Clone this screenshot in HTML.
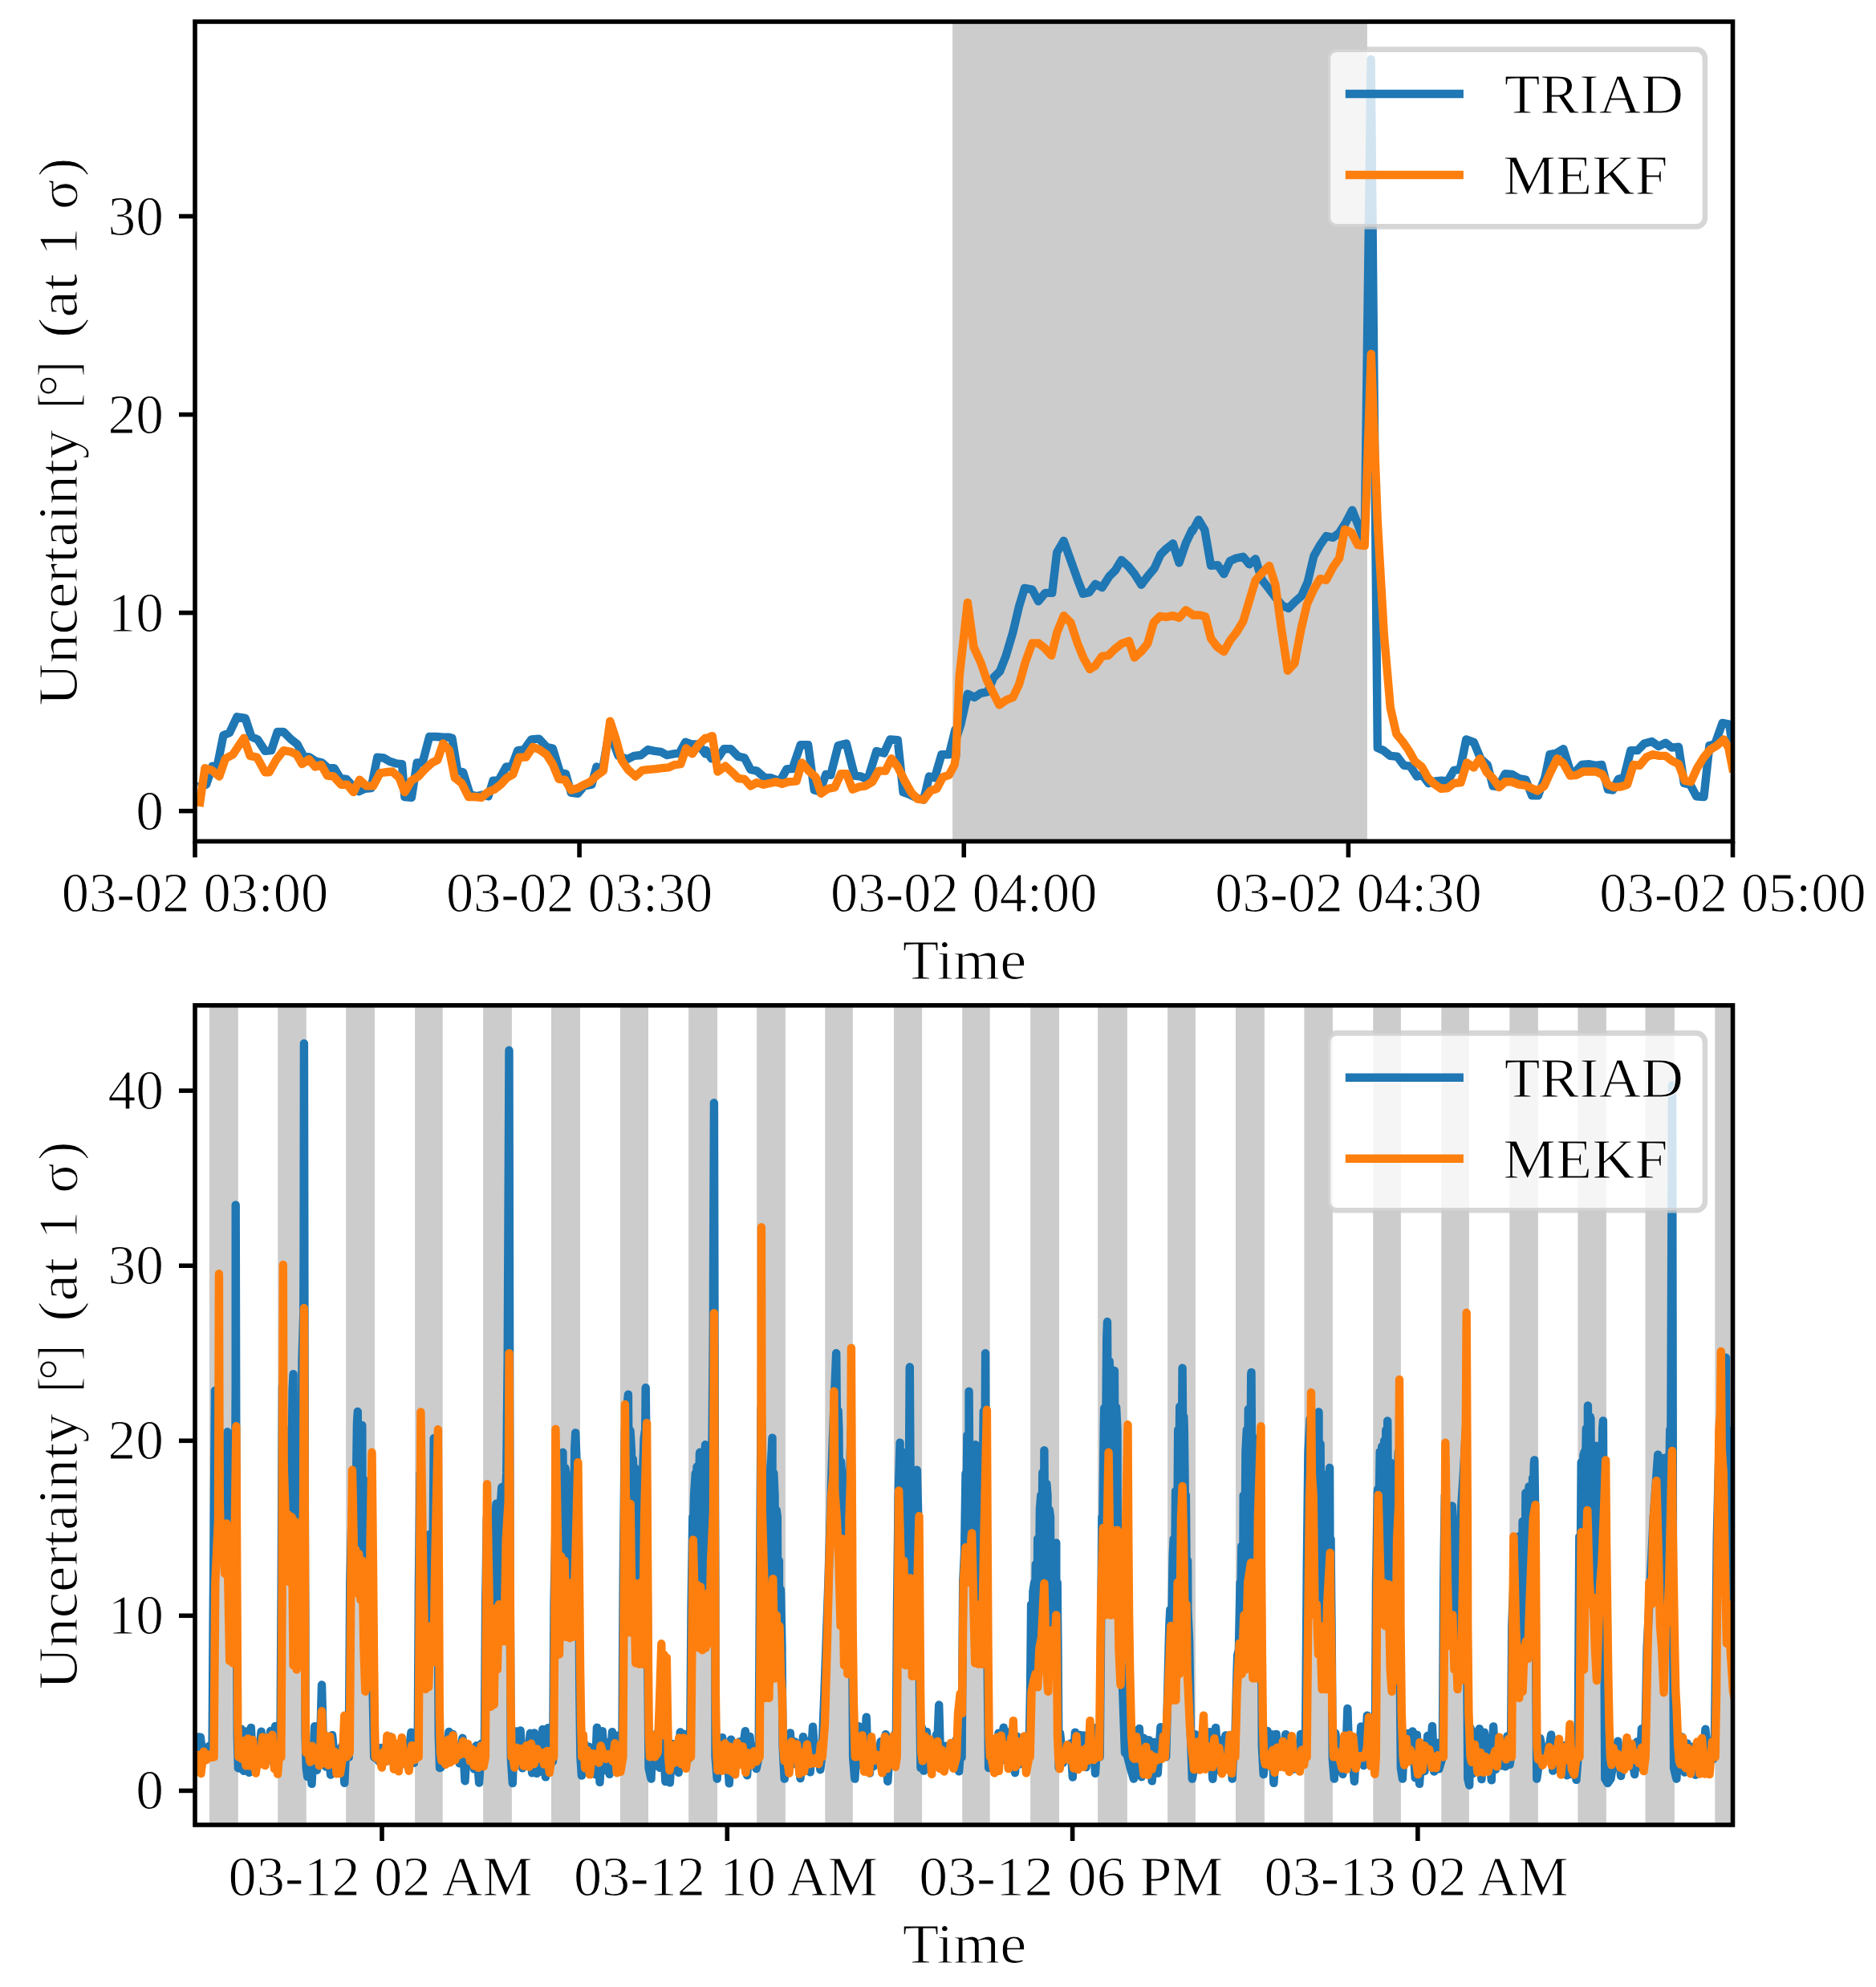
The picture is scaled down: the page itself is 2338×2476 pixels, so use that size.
<!DOCTYPE html>
<html lang="en"><head><meta charset="utf-8"><title>Uncertainty TRIAD vs MEKF</title>
<style>html,body{margin:0;padding:0;background:#fff}svg{display:block}text{font-family:"Liberation Serif","DejaVu Serif",serif;fill:#000;stroke:#fff;stroke-width:1.1px;stroke-linejoin:round}</style>
</head><body>
<svg width="2338" height="2476" viewBox="0 0 2338 2476">
<rect width="2338" height="2476" fill="#fff"/>
<defs>
<clipPath id="ct"><rect x="243.0" y="27.0" width="1916.5" height="1021.4000000000001"/></clipPath>
<clipPath id="cb"><rect x="243.0" y="1252.8" width="1916.5" height="1021.2"/></clipPath>
</defs>
<rect x="1187.1" y="27.0" width="516.8" height="1021.4000000000001" fill="#cccccc"/>
<g clip-path="url(#ct)" fill="none" stroke-width="10.4" stroke-linejoin="round" stroke-linecap="butt">
<path d="M246.8 980.3 L257.1 977.7 L264.7 954.7 L270.7 954.7 L278.4 916.3 L286.1 912.9 L295.4 893.3 L305.7 895.0 L313.3 918.0 L321.0 921.4 L330.4 935.9 L338.1 935.1 L345.8 912.0 L353.4 912.0 L362.8 921.4 L370.5 927.4 L378.2 941.9 L385.8 943.6 L393.5 948.7 L401.2 950.4 L408.9 957.2 L416.5 957.2 L424.2 970.0 L431.9 970.9 L439.6 979.4 L447.2 986.2 L454.9 982.8 L462.6 982.0 L470.3 943.6 L478.0 944.4 L485.6 948.7 L493.3 951.3 L501.0 952.1 L504.4 993.0 L512.9 993.9 L519.7 950.4 L526.6 950.4 L535.1 918.0 L543.6 918.0 L552.2 918.8 L560.0 918.8 L563.4 919.7 L570.2 960.6 L577.1 962.3 L585.6 989.6 L593.3 992.2 L600.9 990.5 L608.6 992.2 L614.6 972.6 L621.4 972.6 L630.8 955.5 L637.6 955.5 L645.3 935.1 L653.0 934.2 L662.3 921.4 L671.7 920.6 L681.1 930.8 L688.8 932.5 L698.2 963.2 L705.0 964.1 L711.8 987.9 L720.3 988.8 L728.0 979.4 L737.4 977.7 L743.4 955.5 L751.0 958.9 L758.7 914.6 L763.0 921.4 L770.7 941.9 L781.7 946.1 L790.3 941.9 L798.8 941.0 L807.3 934.2 L815.9 935.9 L823.5 936.8 L831.2 941.0 L839.7 939.3 L846.6 938.5 L854.2 924.8 L861.9 927.4 L870.4 927.4 L879.0 939.3 L880.0 935.1 L886.8 945.3 L895.4 943.6 L902.2 933.3 L910.7 933.3 L920.1 942.7 L927.8 944.4 L935.4 958.9 L943.1 960.6 L953.3 969.2 L960.2 969.2 L972.1 973.4 L980.6 958.1 L987.5 958.1 L997.7 928.2 L1007.1 928.2 L1014.8 984.5 L1021.6 986.2 L1029.3 964.9 L1035.2 965.8 L1044.6 929.1 L1054.8 926.5 L1065.1 966.6 L1072.8 967.5 L1081.3 971.7 L1092.4 935.9 L1101.7 938.5 L1109.4 921.4 L1118.8 922.3 L1125.6 987.1 L1132.5 989.6 L1143.5 994.8 L1151.2 996.5 L1158.0 967.5 L1164.9 969.2 L1173.4 940.2 L1182.8 940.2 L1190.4 909.5 L1190.9 943.4 L1191.4 940.8 L1191.9 919.5 L1197.4 902.3 L1205.9 864.7 L1214.5 869.0 L1222.2 863.8 L1230.7 862.1 L1238.4 844.2 L1246.1 836.5 L1253.8 816.8 L1262.4 787.7 L1270.1 755.2 L1276.9 732.9 L1286.4 734.6 L1294.1 749.2 L1302.6 738.9 L1311.2 738.9 L1317.2 688.4 L1325.7 673.9 L1334.3 697.9 L1342.8 721.8 L1349.7 739.8 L1357.4 738.1 L1365.1 727.8 L1373.6 732.1 L1382.2 718.4 L1389.9 710.7 L1397.6 697.9 L1406.1 705.6 L1413.8 715.0 L1422.4 728.7 L1430.1 718.4 L1438.7 708.1 L1446.4 691.0 L1454.1 683.3 L1461.8 677.3 L1469.5 701.3 L1478.0 676.5 L1485.7 660.2 L1486.0 662.1 L1493.7 647.6 L1501.4 660.4 L1509.1 704.9 L1517.6 704.1 L1525.3 715.2 L1533.0 698.9 L1540.7 695.5 L1549.3 693.8 L1557.0 703.2 L1564.7 696.4 L1572.4 722.0 L1581.0 733.1 L1589.5 744.3 L1598.1 754.5 L1605.8 758.0 L1614.3 749.4 L1622.0 742.6 L1629.7 725.4 L1637.4 692.9 L1645.1 679.2 L1652.8 668.1 L1661.4 669.8 L1669.1 663.8 L1676.8 651.9 L1685.3 635.6 L1693.0 655.3 L1700.7 675.0 L1708.6 74.0 L1716.8 932.0 L1724.1 935.1 L1732.6 941.9 L1741.2 942.7 L1749.7 953.8 L1757.4 954.7 L1765.9 967.5 L1772.7 965.8 L1780.4 976.0 L1788.9 973.4 L1796.6 972.6 L1804.3 973.4 L1812.0 959.8 L1819.6 958.9 L1827.3 921.4 L1836.7 924.8 L1845.2 945.3 L1853.8 953.0 L1860.6 979.4 L1867.4 980.3 L1875.9 964.1 L1884.5 964.9 L1893.0 970.0 L1901.5 971.7 L1909.2 991.3 L1916.9 991.3 L1925.4 969.2 L1931.4 940.2 L1939.9 938.5 L1948.4 933.3 L1957.0 960.6 L1962.9 962.3 L1971.4 953.0 L1980.0 952.1 L1988.5 953.8 L1996.2 953.0 L2003.9 983.7 L2010.1 984.5 L2016.9 970.9 L2023.8 969.2 L2032.3 935.1 L2040.8 935.1 L2049.3 926.5 L2058.7 924.0 L2067.2 929.9 L2075.8 925.7 L2083.5 931.6 L2092.0 930.8 L2098.8 976.0 L2106.5 977.7 L2114.2 992.2 L2123.5 993.0 L2130.4 929.1 L2137.2 927.4 L2146.6 900.9 L2155.1 902.6 L2160.2 936.8" stroke="#1f77b4"/>
<path d="M248.5 1005.0 L255.4 957.2 L263.9 959.8 L273.3 967.5 L280.9 945.3 L290.3 940.2 L304.0 919.7 L311.6 941.9 L320.2 943.6 L330.4 962.3 L335.5 962.3 L344.1 947.0 L353.4 935.1 L362.8 936.8 L369.6 940.2 L376.5 952.1 L385.0 946.1 L392.7 955.5 L400.3 953.0 L408.0 966.6 L415.7 967.5 L425.1 977.7 L432.8 977.7 L440.4 987.1 L448.1 971.7 L456.6 979.4 L465.2 979.4 L473.7 963.2 L480.5 962.3 L489.0 961.5 L497.6 969.2 L504.4 987.1 L512.9 972.6 L521.4 967.5 L530.0 958.1 L538.5 950.4 L545.3 947.0 L552.2 926.5 L560.0 935.1 L566.8 969.2 L575.4 976.0 L583.9 993.0 L592.4 993.0 L600.1 993.9 L607.8 987.1 L616.3 983.7 L624.0 977.7 L631.6 969.2 L639.3 964.9 L647.0 943.6 L655.5 943.6 L664.1 930.8 L672.6 934.2 L681.1 940.2 L688.8 952.1 L696.5 970.9 L704.1 971.7 L711.8 984.5 L720.3 982.0 L728.0 977.7 L735.7 974.3 L743.4 966.6 L751.9 960.6 L760.3 898.6 L767.2 919.7 L774.9 947.8 L782.6 958.9 L792.0 967.5 L800.5 959.8 L809.0 958.9 L817.6 958.1 L825.2 957.2 L832.9 956.4 L840.6 953.0 L848.3 952.1 L855.1 932.5 L862.8 939.3 L870.4 928.2 L879.0 919.7 L880.0 920.6 L887.7 917.1 L894.5 961.5 L903.9 954.7 L912.4 962.3 L920.1 970.0 L927.8 970.9 L935.4 979.4 L943.1 975.1 L951.6 977.7 L959.3 976.0 L967.0 974.3 L974.7 976.8 L982.3 974.3 L992.6 973.4 L999.4 950.4 L1007.9 960.6 L1016.5 968.3 L1023.3 988.8 L1031.8 982.8 L1040.3 981.1 L1048.0 964.1 L1054.8 964.1 L1062.5 983.7 L1071.0 980.3 L1078.7 979.4 L1087.2 974.3 L1094.9 960.6 L1103.5 960.6 L1111.1 945.3 L1118.8 955.5 L1127.3 972.6 L1135.9 987.9 L1143.5 995.6 L1151.2 996.5 L1159.7 985.4 L1167.4 982.8 L1175.1 968.3 L1182.8 965.8 L1189.6 953.0 L1191.4 941.7 L1195.7 842.5 L1205.9 750.9 L1213.6 806.5 L1222.2 825.3 L1229.9 847.6 L1237.6 863.0 L1245.3 878.4 L1253.8 872.4 L1262.4 869.0 L1270.1 852.7 L1277.8 825.3 L1286.4 801.4 L1294.1 801.4 L1301.8 807.4 L1310.3 816.8 L1317.2 788.5 L1325.7 767.2 L1334.3 775.7 L1342.8 801.4 L1350.5 820.2 L1358.2 833.9 L1365.1 829.6 L1373.6 817.6 L1381.3 816.8 L1389.0 809.1 L1397.6 802.2 L1407.0 798.8 L1413.8 819.3 L1422.4 811.6 L1430.1 802.2 L1437.8 775.7 L1445.5 768.0 L1453.2 768.9 L1461.8 767.2 L1469.5 769.7 L1478.0 760.3 L1485.7 765.4 L1486.8 766.5 L1495.4 766.5 L1502.2 768.2 L1509.1 795.6 L1516.8 805.9 L1525.3 811.9 L1533.0 798.2 L1541.6 787.0 L1549.3 774.2 L1557.0 748.5 L1564.7 722.9 L1573.3 713.5 L1581.8 704.9 L1589.5 728.9 L1597.2 785.3 L1604.9 835.8 L1613.5 826.4 L1621.2 785.3 L1628.9 752.8 L1637.4 734.0 L1645.1 721.2 L1652.8 722.9 L1661.4 706.6 L1669.1 695.5 L1675.9 659.6 L1684.5 663.8 L1692.2 679.2 L1700.7 680.1 L1708.8 441.0 L1716.8 650.0 L1724.8 790.0 L1732.8 882.0 L1740.3 914.6 L1748.0 924.0 L1755.7 935.1 L1763.3 948.7 L1771.9 955.5 L1779.6 969.2 L1787.2 976.8 L1795.8 982.8 L1804.3 982.0 L1812.0 976.0 L1820.5 975.1 L1828.2 950.4 L1836.7 956.4 L1844.4 945.3 L1852.9 962.3 L1860.6 970.0 L1868.3 981.1 L1875.9 974.3 L1884.5 974.3 L1893.0 977.7 L1900.7 978.6 L1908.3 982.0 L1916.0 985.4 L1924.5 979.4 L1932.2 962.3 L1940.7 945.3 L1948.4 951.3 L1957.0 966.6 L1964.6 965.8 L1973.2 961.5 L1980.8 961.5 L1988.5 961.5 L1997.0 964.9 L2003.9 977.7 L2011.8 981.1 L2020.3 980.3 L2028.0 977.7 L2035.7 953.0 L2043.4 953.8 L2051.9 943.6 L2059.6 940.2 L2068.1 941.9 L2075.8 941.9 L2083.5 947.8 L2092.0 952.1 L2099.7 972.6 L2107.3 974.3 L2115.0 957.2 L2123.5 943.6 L2131.2 934.2 L2139.7 929.1 L2148.3 921.4 L2154.2 931.6 L2160.2 962.3" stroke="#ff7f0e"/>
</g>
<rect x="261.0" y="1252.8" width="35.8" height="1021.2" fill="#cccccc"/>
<rect x="346.2" y="1252.8" width="35.6" height="1021.2" fill="#cccccc"/>
<rect x="431.1" y="1252.8" width="35.9" height="1021.2" fill="#cccccc"/>
<rect x="517.1" y="1252.8" width="34.6" height="1021.2" fill="#cccccc"/>
<rect x="602.1" y="1252.8" width="35.8" height="1021.2" fill="#cccccc"/>
<rect x="687.0" y="1252.8" width="36.0" height="1021.2" fill="#cccccc"/>
<rect x="772.9" y="1252.8" width="35.1" height="1021.2" fill="#cccccc"/>
<rect x="858.1" y="1252.8" width="35.9" height="1021.2" fill="#cccccc"/>
<rect x="943.1" y="1252.8" width="35.8" height="1021.2" fill="#cccccc"/>
<rect x="1028.3" y="1252.8" width="34.5" height="1021.2" fill="#cccccc"/>
<rect x="1114.0" y="1252.8" width="35.1" height="1021.2" fill="#cccccc"/>
<rect x="1199.2" y="1252.8" width="34.5" height="1021.2" fill="#cccccc"/>
<rect x="1284.1" y="1252.8" width="35.9" height="1021.2" fill="#cccccc"/>
<rect x="1368.1" y="1252.8" width="36.8" height="1021.2" fill="#cccccc"/>
<rect x="1455.1" y="1252.8" width="34.8" height="1021.2" fill="#cccccc"/>
<rect x="1540.0" y="1252.8" width="35.9" height="1021.2" fill="#cccccc"/>
<rect x="1625.4" y="1252.8" width="35.5" height="1021.2" fill="#cccccc"/>
<rect x="1711.3" y="1252.8" width="34.6" height="1021.2" fill="#cccccc"/>
<rect x="1796.3" y="1252.8" width="34.6" height="1021.2" fill="#cccccc"/>
<rect x="1881.3" y="1252.8" width="35.6" height="1021.2" fill="#cccccc"/>
<rect x="1966.4" y="1252.8" width="35.5" height="1021.2" fill="#cccccc"/>
<rect x="2050.5" y="1252.8" width="36.4" height="1021.2" fill="#cccccc"/>
<rect x="2137.3" y="1252.8" width="22.2" height="1021.2" fill="#cccccc"/>
<g clip-path="url(#cb)" fill="none" stroke-width="10.4" stroke-linejoin="round" stroke-linecap="butt">
<path d="M244.0 2159.5 L246.9 2206.6 L249.8 2164.7 L251.8 2180.9 L254.2 2179.1 L257.5 2184.9 L260.4 2175.8 L263.1 2179.7 L264.5 2189.4 L265.8 1999.1 L266.2 1957.4 L267.9 1749.1 L268.0 1732.6 L269.6 1833.5 L270.5 1890.3 L271.3 1896.6 L273.0 1909.7 L274.0 1917.5 L274.7 1912.9 L276.4 1901.6 L278.1 1890.3 L278.1 1890.3 L279.8 1906.5 L280.8 1863.1 L281.5 1906.5 L283.2 1793.9 L283.5 1784.3 L284.9 1906.5 L285.7 1863.1 L286.6 1951.0 L287.6 1890.3 L288.3 1979.9 L290.0 1938.1 L290.3 1944.7 L291.7 1971.9 L291.7 1969.3 L293.4 1785.2 L293.7 1728.5 L293.7 1501.5 L294.6 1921.3 L294.9 2026.3 L295.1 2051.0 L295.7 2162.2 L296.8 2200.9 L296.8 2203.0 L298.3 2203.5 L300.4 2154.5 L303.8 2206.8 L307.2 2157.4 L310.5 2208.8 L312.8 2152.9 L315.6 2203.0 L319.4 2187.0 L322.7 2188.0 L325.6 2157.8 L328.7 2198.4 L331.0 2169.2 L333.7 2187.2 L337.1 2157.0 L340.4 2195.6 L343.1 2151.0 L346.2 2190.6 L349.3 2189.4 L350.7 1971.9 L351.0 1910.6 L352.0 1727.2 L352.7 1761.2 L354.2 1835.9 L354.4 1835.9 L356.1 1835.9 L357.8 1835.9 L358.3 1835.9 L359.5 1895.6 L361.2 1790.9 L361.8 1781.6 L362.9 1898.3 L364.6 1730.7 L365.6 1712.2 L366.3 1898.3 L368.0 1759.1 L369.1 1781.6 L369.7 1903.8 L371.4 1840.5 L372.7 1874.0 L373.1 1925.5 L374.8 1814.0 L375.9 1781.6 L376.5 1692.2 L378.2 1637.9 L378.5 1570.3 L378.9 1300.1 L379.8 1837.5 L380.1 1971.9 L380.4 2006.6 L380.6 2162.2 L381.6 2200.9 L381.7 2203.0 L383.2 2214.1 L386.0 2185.5 L388.5 2222.9 L392.2 2151.2 L395.0 2205.7 L398.3 2178.3 L398.8 2181.3 L401.0 2099.4 L403.2 2186.0 L406.1 2201.5 L408.7 2163.9 L412.0 2211.5 L414.1 2162.2 L417.6 2197.8 L421.3 2187.0 L423.5 2180.2 L426.7 2175.5 L429.3 2221.8 L432.0 2158.9 L434.7 2189.4 L436.3 1971.9 L436.4 1969.3 L438.1 1905.6 L438.5 1890.3 L439.8 1864.4 L441.2 1835.9 L441.5 1831.4 L443.2 1898.9 L444.9 1774.8 L445.8 1759.0 L446.6 1944.5 L448.3 1811.0 L448.8 1822.3 L450.0 1944.5 L451.3 1775.9 L451.7 1952.7 L453.4 1843.7 L454.0 1863.1 L455.1 1979.9 L456.2 1936.5 L456.8 1979.9 L458.5 1966.7 L458.9 1971.9 L460.2 1984.9 L461.6 1999.1 L461.9 1982.1 L462.9 1917.5 L463.6 1990.3 L464.6 2107.8 L465.3 2142.5 L466.2 2189.4 L467.7 2190.8 L469.7 2181.1 L472.0 2194.7 L474.6 2177.9 L477.2 2190.2 L480.1 2182.5 L483.1 2194.1 L486.3 2164.1 L488.4 2192.2 L491.0 2187.1 L493.1 2192.2 L496.3 2178.5 L499.1 2199.4 L501.5 2177.7 L503.9 2194.9 L506.7 2172.4 L509.6 2183.6 L512.5 2158.7 L515.9 2196.7 L519.4 2159.2 L520.6 2189.4 L521.9 1971.9 L522.3 1943.5 L523.6 1835.9 L524.0 1849.6 L525.7 1906.3 L526.8 1944.7 L527.4 1948.3 L529.1 1959.7 L530.8 1971.0 L530.9 1971.9 L532.5 2037.0 L534.2 1924.0 L535.0 1912.1 L535.9 2034.3 L537.6 1943.2 L537.7 1944.7 L539.3 1956.1 L540.7 1792.2 L541.0 1876.5 L542.7 1863.7 L543.4 1890.3 L544.4 1926.4 L545.6 1971.9 L546.1 2057.0 L546.7 2162.2 L547.8 2195.2 L548.0 2203.0 L549.5 2202.5 L553.3 2185.1 L555.8 2185.1 L559.5 2158.0 L561.7 2188.8 L564.3 2160.9 L566.8 2188.9 L570.3 2174.7 L572.7 2197.4 L576.4 2165.8 L579.5 2219.2 L581.8 2180.7 L585.5 2182.5 L588.8 2183.0 L590.9 2204.4 L593.6 2175.2 L597.1 2221.5 L600.1 2172.7 L603.8 2189.4 L605.1 1999.1 L605.5 1976.4 L606.8 1890.3 L607.2 1896.6 L608.9 1922.8 L610.3 1944.7 L610.6 1942.9 L612.3 1980.5 L614.0 1920.2 L614.4 1917.5 L615.7 2012.5 L617.4 1885.3 L618.5 1873.7 L619.1 2007.1 L620.8 1893.5 L622.0 1903.9 L622.5 2007.1 L624.2 1870.1 L625.3 1853.3 L625.9 2007.1 L627.6 1884.9 L628.0 1890.3 L629.3 1868.6 L631.0 1840.3 L631.2 1835.9 L632.7 1694.1 L634.4 1328.7 L634.5 1308.8 L635.6 1971.9 L636.1 2069.7 L636.7 2189.4 L637.8 2205.9 L638.8 2222.0 L640.3 2179.9 L643.7 2157.5 L645.8 2192.2 L648.6 2156.4 L651.1 2203.3 L654.7 2183.3 L658.0 2187.5 L660.8 2159.8 L663.1 2209.3 L665.9 2159.5 L668.8 2209.9 L670.9 2169.1 L674.0 2207.6 L676.3 2154.9 L679.9 2214.4 L682.9 2153.3 L685.6 2189.2 L687.6 2169.1 L689.1 2194.8 L690.5 1999.1 L690.8 1982.0 L692.5 1897.0 L693.2 1863.1 L694.2 1863.1 L695.9 1863.1 L697.3 1863.1 L697.6 1901.3 L699.3 1836.4 L701.0 1947.3 L701.4 1809.8 L702.7 1952.7 L704.4 1829.5 L705.5 1835.9 L706.1 1952.7 L707.8 1887.4 L709.0 1912.1 L709.5 1979.9 L711.2 1921.1 L711.7 1922.9 L712.9 1985.3 L713.6 1863.1 L714.6 1934.1 L716.3 1803.1 L717.2 1785.4 L718.0 1806.7 L719.7 1847.2 L720.4 1863.1 L721.4 1992.3 L721.5 1999.1 L722.3 2107.8 L723.1 2170.1 L723.4 2189.4 L724.9 2212.6 L728.5 2173.2 L731.5 2193.2 L734.1 2176.7 L736.5 2198.8 L738.7 2178.3 L741.7 2211.1 L743.9 2152.8 L747.5 2220.9 L750.7 2157.2 L753.9 2205.7 L756.8 2171.5 L759.6 2210.9 L763.0 2158.2 L766.8 2182.0 L769.9 2162.7 L772.2 2206.3 L775.3 2189.4 L776.7 1971.9 L777.0 1942.1 L778.7 1793.3 L778.9 1781.6 L780.4 1764.8 L782.1 1746.5 L782.9 1737.8 L783.8 1859.4 L785.5 1782.8 L787.0 1808.8 L787.2 1882.0 L788.9 1818.2 L790.6 1979.9 L791.1 1828.9 L792.3 1979.9 L793.8 1917.5 L794.0 1985.3 L795.7 1951.9 L796.5 1966.4 L797.4 1979.9 L799.1 1893.9 L799.3 1890.3 L800.8 1843.1 L802.0 1808.8 L802.5 1792.5 L804.2 1781.1 L804.7 1729.1 L805.9 1851.3 L806.3 1890.3 L807.4 2080.6 L807.6 2105.1 L808.5 2203.0 L809.3 2206.8 L811.0 2214.5 L811.5 2216.6 L813.0 2168.6 L815.9 2200.7 L819.0 2159.4 L822.3 2202.8 L825.8 2152.7 L829.3 2220.1 L831.5 2155.5 L834.8 2221.3 L838.1 2172.9 L840.7 2196.2 L842.9 2177.4 L845.7 2208.8 L847.7 2158.5 L850.5 2199.8 L853.6 2161.0 L856.3 2193.7 L860.0 2189.4 L861.6 1999.1 L861.7 1994.5 L863.3 1890.3 L863.4 1926.6 L865.1 1862.1 L866.8 1835.9 L866.8 1926.6 L868.5 1827.8 L870.2 1982.6 L871.9 1811.4 L872.2 1809.8 L873.6 1985.3 L875.3 1879.6 L875.8 1890.3 L877.0 2007.1 L878.7 1809.5 L879.0 1800.3 L880.4 1993.5 L881.8 1890.3 L882.1 1993.5 L883.8 1931.3 L884.5 1944.7 L885.5 1903.5 L887.2 1835.9 L887.2 1834.0 L888.9 1644.1 L889.0 1590.1 L889.9 1374.3 L890.8 1780.1 L891.1 1881.6 L891.4 1971.9 L891.5 2189.4 L892.3 2198.9 L893.7 2216.6 L895.2 2182.2 L898.0 2206.5 L900.2 2165.2 L903.6 2203.9 L905.7 2173.8 L908.8 2222.4 L911.0 2167.6 L913.4 2185.7 L916.5 2176.3 L919.5 2192.1 L921.5 2170.5 L925.2 2183.4 L928.8 2157.2 L931.1 2212.2 L934.4 2164.0 L937.0 2195.8 L940.5 2177.5 L942.6 2204.0 L945.6 2189.4 L947.0 1971.9 L947.3 1926.5 L948.6 1754.4 L949.0 1771.9 L950.7 1844.8 L952.4 1917.5 L952.4 1917.5 L954.1 1928.9 L955.8 2007.1 L956.5 1944.7 L957.5 2007.1 L959.2 1863.1 L959.2 1988.0 L960.9 1825.7 L962.5 1791.6 L962.6 1975.5 L964.3 1835.7 L965.5 1863.1 L966.0 1975.5 L967.7 1881.9 L968.8 1890.3 L969.4 2020.7 L970.9 1944.7 L971.1 2034.3 L972.8 1980.6 L973.1 1985.5 L974.5 2053.5 L974.5 2062.5 L975.6 2175.8 L976.2 2188.8 L977.7 2216.6 L979.2 2175.9 L982.0 2206.2 L984.8 2159.5 L987.6 2198.4 L990.5 2170.4 L992.9 2189.9 L994.9 2173.0 L997.5 2216.0 L1000.9 2164.1 L1003.4 2197.5 L1006.2 2169.7 L1009.7 2208.3 L1013.0 2151.7 L1015.4 2187.9 L1019.2 2174.3 L1022.3 2205.2 L1024.2 2189.4 L1025.9 2146.9 L1027.5 2107.8 L1027.6 2104.0 L1029.3 2056.8 L1031.0 2009.6 L1032.4 1971.9 L1032.7 1960.4 L1034.4 1903.8 L1036.1 1847.1 L1037.3 1808.8 L1037.8 1795.0 L1039.5 1752.4 L1041.2 1709.8 L1042.2 1686.1 L1042.9 1764.5 L1044.6 1758.0 L1045.4 1781.6 L1046.3 1910.6 L1048.0 1821.5 L1049.0 1835.9 L1049.7 1925.5 L1051.4 1892.5 L1051.7 1898.5 L1053.1 1950.4 L1054.4 1863.1 L1054.8 1957.5 L1056.5 1905.5 L1057.1 1917.5 L1058.2 1875.1 L1059.9 1809.8 L1060.7 1781.6 L1061.6 1950.8 L1061.7 1971.9 L1063.1 2189.4 L1063.3 2192.1 L1065.0 2213.4 L1065.3 2216.6 L1066.8 2192.8 L1070.3 2151.3 L1073.5 2199.4 L1076.3 2160.2 L1077.5 2190.3 L1079.7 2139.8 L1081.9 2202.2 L1083.9 2209.6 L1086.0 2183.3 L1088.5 2201.1 L1091.2 2184.7 L1094.5 2191.7 L1097.6 2170.2 L1101.1 2208.5 L1103.8 2161.1 L1106.3 2219.7 L1108.9 2180.8 L1111.2 2198.0 L1114.7 2161.4 L1116.7 2189.4 L1118.0 1999.1 L1118.4 1970.7 L1119.7 1863.1 L1120.1 1849.0 L1121.6 1797.6 L1121.8 1865.4 L1123.5 1825.6 L1125.1 1849.5 L1125.2 1935.5 L1126.9 1908.0 L1127.8 1939.3 L1128.6 1952.7 L1130.3 1821.5 L1130.5 1808.8 L1132.0 1974.4 L1133.7 1707.7 L1133.8 1703.5 L1135.4 1974.4 L1136.8 1863.1 L1137.1 1974.4 L1138.7 1958.3 L1138.8 1955.5 L1140.5 1974.0 L1140.6 1890.3 L1142.2 1909.4 L1142.8 1831.6 L1143.9 1875.0 L1144.9 1917.5 L1145.6 2026.7 L1146.0 2107.8 L1147.3 2194.4 L1147.4 2203.0 L1148.9 2152.7 L1151.3 2206.6 L1154.9 2157.9 L1157.3 2204.1 L1160.9 2179.4 L1164.5 2200.7 L1166.9 2161.6 L1168.0 2178.8 L1170.2 2124.5 L1172.4 2203.4 L1175.5 2200.1 L1178.5 2175.6 L1181.8 2182.2 L1184.9 2177.3 L1188.6 2201.2 L1191.7 2167.8 L1195.1 2207.3 L1197.5 2177.1 L1198.6 2189.4 L1200.2 1971.9 L1200.3 1969.0 L1202.0 1936.1 L1203.5 1835.9 L1203.7 1936.1 L1205.4 1788.2 L1207.1 1931.1 L1207.4 1891.6 L1207.6 1733.7 L1208.5 1881.5 L1208.8 1918.4 L1210.5 1818.4 L1211.1 1835.9 L1212.2 1918.4 L1213.9 1814.4 L1215.6 1979.3 L1215.7 1800.3 L1217.3 2020.7 L1218.5 1890.3 L1219.0 2007.1 L1220.4 1933.8 L1220.7 2007.1 L1222.4 1877.1 L1223.9 1835.9 L1224.1 1892.3 L1225.8 1758.4 L1227.5 1764.8 L1227.8 1749.1 L1228.1 1686.1 L1228.5 1799.9 L1229.2 1828.4 L1229.6 1863.1 L1230.7 2080.6 L1230.9 2100.2 L1232.1 2203.0 L1233.6 2170.2 L1236.2 2187.1 L1238.5 2172.2 L1241.1 2191.7 L1244.5 2159.6 L1247.6 2193.9 L1250.7 2152.7 L1253.9 2188.3 L1256.1 2158.5 L1259.4 2201.6 L1261.9 2154.5 L1265.0 2209.0 L1267.4 2163.8 L1270.3 2198.5 L1272.7 2166.9 L1276.0 2195.6 L1278.8 2178.6 L1282.3 2189.4 L1284.0 2108.6 L1285.1 1999.1 L1285.7 2100.6 L1287.4 1983.2 L1289.1 1971.9 L1289.1 2093.8 L1290.8 1949.2 L1292.5 2060.7 L1293.2 1917.5 L1294.2 2052.2 L1295.9 1881.2 L1297.3 1863.1 L1297.6 1996.0 L1299.3 1835.0 L1301.0 1981.0 L1301.4 1807.1 L1302.7 1981.0 L1304.4 1849.3 L1305.5 1863.1 L1306.1 2045.2 L1307.8 1881.5 L1309.0 1890.3 L1309.5 2039.4 L1311.2 1927.9 L1312.3 1944.7 L1312.9 2027.8 L1314.6 1931.8 L1316.3 1922.7 L1316.3 2020.4 L1317.7 1971.9 L1318.0 2007.4 L1318.5 2053.5 L1319.6 2203.0 L1321.1 2160.0 L1324.8 2196.7 L1327.8 2184.6 L1330.5 2181.9 L1334.2 2172.4 L1336.8 2214.5 L1339.9 2158.6 L1342.1 2188.8 L1345.6 2162.0 L1348.3 2186.3 L1350.6 2162.4 L1353.5 2202.1 L1356.7 2173.3 L1359.0 2184.5 L1362.2 2163.5 L1365.0 2209.8 L1368.4 2151.4 L1370.7 2189.4 L1372.4 2002.4 L1373.4 1890.3 L1374.1 1911.9 L1375.8 1771.3 L1376.2 1754.4 L1377.5 1871.3 L1379.2 1668.0 L1380.0 1647.0 L1380.9 1817.8 L1382.6 1695.9 L1384.3 1727.2 L1384.3 1817.8 L1385.1 1798.3 L1386.0 1720.1 L1386.9 1875.7 L1387.7 1914.6 L1388.0 1873.3 L1388.9 1707.9 L1389.8 1873.3 L1390.1 1914.6 L1391.1 1753.4 L1392.5 1781.6 L1392.8 1914.6 L1394.4 1901.2 L1394.5 1911.4 L1396.2 2030.4 L1396.5 2053.5 L1397.9 2080.9 L1399.3 2107.8 L1399.6 2117.7 L1401.3 2165.3 L1402.0 2184.0 L1403.0 2185.0 L1404.7 2186.7 L1404.7 2186.7 L1406.4 2193.5 L1408.1 2200.3 L1408.8 2203.0 L1409.8 2206.4 L1411.5 2212.1 L1412.9 2216.6 L1414.4 2164.9 L1416.5 2202.2 L1419.9 2154.0 L1422.6 2214.2 L1425.1 2165.7 L1428.6 2201.5 L1432.0 2168.3 L1435.7 2219.4 L1439.0 2171.0 L1442.8 2209.6 L1446.4 2152.2 L1449.8 2188.4 L1453.2 2189.4 L1454.9 2121.4 L1456.6 2053.4 L1457.3 2026.3 L1458.3 2005.8 L1460.0 2034.0 L1461.7 1937.8 L1462.7 1917.5 L1463.4 2034.3 L1465.1 1857.9 L1466.8 1979.9 L1468.2 1781.6 L1468.5 1939.7 L1470.2 1752.6 L1471.9 1860.0 L1472.7 1828.9 L1473.6 1704.6 L1474.5 1828.9 L1474.8 1860.0 L1475.3 1765.1 L1475.8 1781.6 L1477.0 1879.7 L1477.9 1863.1 L1478.7 1970.5 L1480.1 1944.7 L1480.4 2007.1 L1482.1 2043.9 L1482.3 2053.5 L1483.8 2154.0 L1483.9 2162.2 L1485.5 2207.3 L1485.8 2216.6 L1487.3 2208.4 L1489.7 2161.2 L1493.4 2199.5 L1496.8 2174.9 L1499.5 2188.5 L1502.3 2172.6 L1504.6 2182.6 L1507.7 2158.2 L1511.4 2216.8 L1515.1 2152.9 L1518.6 2205.9 L1521.3 2168.5 L1524.4 2179.3 L1527.4 2162.4 L1530.7 2194.7 L1533.2 2181.3 L1535.7 2216.6 L1537.8 2171.6 L1538.8 2189.4 L1540.5 2121.4 L1541.6 2080.6 L1542.2 2062.5 L1543.9 2055.7 L1545.6 1971.9 L1545.6 2055.7 L1547.3 1926.5 L1549.0 2020.7 L1549.7 1863.1 L1550.7 2020.7 L1552.4 1808.6 L1553.8 1781.6 L1554.1 1967.8 L1555.8 1755.9 L1557.5 1955.1 L1559.2 1713.4 L1559.5 1710.1 L1560.9 1955.1 L1562.6 1791.4 L1563.3 1808.8 L1564.3 1953.1 L1566.0 1890.3 L1566.0 1890.2 L1567.7 1873.2 L1568.8 1863.1 L1569.4 1854.5 L1570.9 1835.9 L1571.1 1872.2 L1571.7 1971.9 L1572.8 2175.8 L1572.8 2176.1 L1574.5 2207.6 L1574.7 2211.1 L1576.2 2192.8 L1579.5 2156.9 L1582.1 2200.4 L1585.0 2161.1 L1587.4 2221.9 L1590.6 2160.9 L1592.9 2199.0 L1596.5 2175.0 L1598.6 2196.3 L1602.3 2161.1 L1606.0 2191.3 L1608.2 2169.2 L1611.9 2204.6 L1615.4 2173.9 L1618.0 2198.6 L1621.0 2161.0 L1623.7 2196.3 L1625.7 2161.9 L1626.9 2189.4 L1628.6 1971.9 L1628.6 1966.0 L1630.3 1820.3 L1630.5 1808.8 L1632.0 1779.4 L1632.6 1768.0 L1633.7 1781.6 L1635.4 1802.9 L1637.1 1824.1 L1638.1 1835.9 L1638.8 1825.4 L1640.5 1934.9 L1642.2 1777.6 L1643.5 1759.5 L1643.9 2010.9 L1645.6 1799.2 L1647.3 2034.3 L1647.6 1835.9 L1649.0 2061.5 L1650.7 1877.8 L1651.7 1890.3 L1652.4 1983.3 L1654.1 1878.0 L1654.4 1876.7 L1655.8 1942.9 L1657.1 1828.9 L1657.5 1942.9 L1658.5 1917.5 L1659.2 1993.6 L1659.6 2026.3 L1660.7 2189.4 L1660.9 2193.0 L1662.6 2214.2 L1662.8 2216.6 L1664.3 2160.0 L1667.3 2191.8 L1670.4 2174.9 L1673.4 2210.8 L1677.2 2189.4 L1679.4 2128.9 L1681.6 2199.4 L1685.0 2185.6 L1687.9 2219.8 L1690.5 2174.1 L1693.3 2195.1 L1696.2 2151.4 L1699.5 2200.0 L1701.7 2179.4 L1703.9 2137.6 L1706.1 2187.6 L1709.3 2154.7 L1713.7 2189.4 L1715.0 1971.9 L1715.4 1949.2 L1716.7 1863.1 L1717.1 1855.7 L1718.8 1870.9 L1719.7 1808.8 L1720.5 1870.9 L1722.2 1802.5 L1723.9 1979.9 L1725.1 1795.2 L1725.6 1979.9 L1727.3 1781.9 L1729.0 1982.3 L1729.2 1770.4 L1730.7 1982.3 L1732.4 1821.9 L1733.2 1835.9 L1734.1 2008.9 L1735.8 1911.7 L1736.0 1917.5 L1737.5 1960.5 L1737.9 1971.9 L1739.2 1923.1 L1740.0 1890.3 L1740.9 1865.5 L1742.6 1814.5 L1742.8 1808.8 L1744.3 2035.0 L1744.4 2053.5 L1745.8 2203.0 L1746.0 2204.3 L1747.7 2215.0 L1747.9 2216.6 L1749.4 2184.5 L1752.5 2192.1 L1755.1 2159.9 L1758.2 2185.1 L1760.4 2157.4 L1763.7 2215.4 L1765.8 2161.6 L1769.0 2222.8 L1771.8 2181.8 L1775.5 2207.0 L1779.2 2163.0 L1781.9 2193.0 L1785.0 2151.0 L1787.2 2207.5 L1790.5 2171.7 L1793.3 2204.4 L1797.8 2189.4 L1799.2 1971.9 L1799.5 1949.2 L1800.8 1863.1 L1801.2 1868.6 L1802.9 1891.3 L1804.6 1913.9 L1804.9 1917.5 L1806.3 1905.5 L1808.0 2020.4 L1809.7 1877.0 L1809.8 1876.5 L1811.4 2020.4 L1813.0 1903.9 L1813.1 2020.4 L1814.8 1900.4 L1815.7 1898.5 L1816.5 2058.7 L1817.6 1985.5 L1818.2 2061.5 L1819.9 1906.7 L1820.4 1890.3 L1821.6 1871.3 L1823.3 1845.2 L1823.9 1835.9 L1825.0 1816.0 L1826.7 1785.1 L1826.9 1781.6 L1828.0 2026.3 L1828.4 2085.1 L1829.3 2216.6 L1830.1 2219.8 L1831.2 2224.7 L1832.7 2153.6 L1835.6 2209.9 L1838.2 2158.9 L1840.4 2191.2 L1843.7 2154.2 L1846.4 2217.1 L1849.9 2158.6 L1853.4 2184.7 L1855.8 2179.8 L1858.8 2218.4 L1861.1 2151.4 L1863.9 2204.9 L1867.4 2177.0 L1870.5 2200.3 L1872.6 2170.3 L1876.0 2201.4 L1878.5 2163.5 L1881.6 2198.8 L1882.9 2189.4 L1884.3 2026.3 L1884.6 2017.8 L1886.3 1975.3 L1886.4 1971.9 L1888.0 1961.5 L1889.7 1950.1 L1890.5 1944.7 L1891.4 2003.3 L1893.1 1916.0 L1893.2 1914.5 L1894.8 2088.6 L1895.4 1988.2 L1896.5 2067.9 L1897.6 1895.8 L1898.2 2055.9 L1899.7 1988.2 L1899.9 2053.0 L1901.4 1860.1 L1901.6 2053.0 L1903.3 1958.4 L1903.6 1971.9 L1905.0 1964.1 L1905.5 1852.3 L1906.7 1894.2 L1908.2 1944.7 L1908.4 1933.1 L1910.1 1841.4 L1910.1 1886.0 L1911.8 1824.1 L1912.3 1819.4 L1913.3 1890.3 L1913.5 1925.0 L1914.2 2080.6 L1915.2 2209.8 L1915.2 2216.6 L1916.7 2206.2 L1919.4 2166.2 L1923.1 2186.0 L1926.3 2187.7 L1930.1 2180.7 L1933.1 2161.7 L1935.3 2206.6 L1938.1 2169.0 L1941.8 2189.0 L1944.0 2178.3 L1946.5 2199.3 L1949.3 2175.2 L1952.9 2212.2 L1956.2 2163.0 L1959.1 2211.1 L1961.8 2155.6 L1964.5 2217.8 L1966.6 2189.4 L1968.3 1917.5 L1968.3 1914.8 L1970.0 1917.1 L1970.7 1822.3 L1971.7 1917.1 L1973.4 1813.3 L1974.8 1808.8 L1975.1 1895.4 L1976.8 1780.0 L1978.5 1889.9 L1978.8 1862.2 L1978.9 1751.4 L1979.8 1862.2 L1980.2 1889.9 L1981.9 1765.8 L1982.4 1768.0 L1983.6 1974.8 L1985.3 1804.6 L1985.7 1808.8 L1987.0 1998.6 L1988.7 1803.4 L1989.7 1801.7 L1990.4 2003.2 L1992.1 1898.7 L1992.5 1912.1 L1993.8 1945.4 L1995.2 1808.8 L1995.5 1902.9 L1997.2 1779.8 L1997.9 1770.4 L1998.9 1964.8 L1999.3 2026.3 L2000.3 2216.6 L2000.6 2217.1 L2002.3 2219.9 L2003.6 2222.0 L2004.0 2221.4 L2005.7 2219.0 L2007.4 2216.6 L2008.9 2207.5 L2011.6 2178.8 L2013.8 2196.0 L2016.3 2169.7 L2020.1 2213.0 L2023.3 2187.5 L2026.7 2189.7 L2028.8 2185.0 L2030.9 2199.4 L2033.3 2186.7 L2037.1 2211.0 L2040.1 2170.4 L2043.6 2202.1 L2045.9 2154.3 L2048.9 2185.6 L2049.9 2189.4 L2051.6 2104.4 L2052.6 2053.5 L2053.3 2039.8 L2055.0 2005.8 L2056.7 1971.9 L2056.7 1971.8 L2058.4 1937.8 L2060.1 1903.8 L2060.8 1890.3 L2061.8 1875.7 L2063.5 1851.4 L2065.2 1827.1 L2066.2 1812.6 L2066.9 1853.2 L2068.6 1822.8 L2069.8 1827.8 L2070.3 1964.3 L2072.0 1820.3 L2073.0 1816.9 L2073.7 2031.8 L2075.4 1826.9 L2076.3 1830.5 L2077.1 1979.0 L2078.8 1815.3 L2079.0 1814.2 L2080.5 1832.6 L2081.2 1781.6 L2082.2 1815.9 L2083.9 1374.7 L2084.1 1352.5 L2085.0 1971.9 L2085.6 2105.0 L2086.1 2203.0 L2087.3 2208.2 L2089.0 2215.2 L2089.4 2216.6 L2090.9 2176.6 L2093.6 2194.0 L2096.1 2164.5 L2099.5 2208.6 L2102.6 2172.5 L2106.4 2209.3 L2109.2 2176.8 L2112.9 2211.7 L2115.1 2186.9 L2118.1 2204.6 L2120.5 2180.8 L2123.0 2190.2 L2125.4 2154.8 L2129.1 2197.6 L2132.3 2169.5 L2134.9 2192.3 L2136.7 2189.4 L2138.0 2080.6 L2138.4 2046.6 L2139.7 1917.5 L2140.1 1901.1 L2141.8 1833.1 L2142.4 1808.8 L2143.5 1786.9 L2145.1 1754.4 L2145.2 1753.7 L2146.9 1736.7 L2147.8 1727.2 L2148.6 1717.4 L2150.3 1816.1 L2150.6 1791.3 L2150.9 1691.8 L2151.4 1866.2 L2152.0 1909.8 L2153.2 1781.6 L2153.7 1997.8 L2155.1 1863.1 L2155.4 2007.1 L2157.1 1934.8 L2157.3 1944.7 L2158.8 2044.5 L2160.0 2026.3 L2160.5 2077.1 L2162.2 2047.4 L2162.8 2053.5" stroke="#1f77b4"/>
<path d="M244.0 2182.0 L246.1 2201.3 L248.2 2189.3 L250.4 2210.0 L253.8 2182.6 L257.0 2193.2 L259.7 2186.5 L262.2 2190.1 L266.6 2189.4 L268.3 1971.9 L272.0 1894.9 L272.9 1587.2 L273.8 1873.2 L275.9 1944.7 L278.1 1901.2 L280.2 1961.0 L282.4 1898.5 L284.3 1971.9 L286.2 2069.8 L288.4 1971.9 L290.3 2072.5 L292.2 1944.7 L294.4 1777.2 L295.5 1999.1 L296.3 2148.6 L297.4 2189.4 L298.9 2171.6 L301.5 2191.8 L303.9 2169.3 L306.5 2200.3 L309.0 2166.5 L311.5 2200.5 L315.0 2168.1 L318.8 2209.5 L322.2 2182.0 L324.2 2198.7 L327.3 2164.6 L330.5 2200.1 L333.3 2165.4 L336.2 2187.6 L339.3 2161.8 L341.9 2204.2 L343.9 2174.5 L346.1 2210.6 L348.3 2179.7 L350.4 2189.4 L351.7 1971.9 L351.9 1892.7 L352.8 1576.0 L353.7 1827.5 L355.8 1890.3 L357.7 1961.0 L359.6 1887.6 L361.5 1971.9 L363.7 1890.3 L365.6 2075.2 L367.8 1895.8 L369.7 2080.6 L371.9 1917.5 L373.8 2075.2 L375.9 1944.7 L378.0 1881.7 L378.9 1629.9 L379.8 1881.7 L380.1 1944.7 L380.3 2107.8 L381.4 2184.0 L382.9 2174.8 L386.5 2195.7 L389.0 2175.6 L392.6 2193.0 L394.9 2180.0 L397.8 2200.2 L398.8 2189.5 L401.0 2132.2 L403.2 2197.2 L406.0 2162.7 L409.0 2199.6 L411.1 2164.0 L414.6 2196.1 L417.4 2183.1 L419.5 2210.4 L421.8 2192.1 L424.0 2209.8 L427.1 2189.4 L429.2 2137.7 L432.0 2189.4 L435.8 2184.0 L437.4 1971.9 L439.0 1831.6 L441.7 1971.9 L443.4 1931.1 L445.0 1985.5 L447.2 1936.5 L449.4 1993.6 L451.5 1944.7 L453.4 2053.5 L455.3 2107.8 L457.5 1971.9 L459.7 2102.4 L461.6 1917.5 L463.5 1809.8 L464.9 1944.7 L465.9 2053.5 L467.0 2148.6 L467.8 2189.4 L469.3 2190.5 L472.0 2186.6 L475.8 2202.6 L477.9 2183.1 L480.4 2195.5 L482.4 2162.8 L484.7 2188.7 L488.5 2164.9 L490.9 2204.6 L494.3 2172.8 L496.9 2207.4 L500.7 2165.1 L504.2 2197.2 L507.1 2192.0 L509.6 2206.7 L513.3 2174.9 L517.1 2193.0 L519.5 2180.2 L521.7 2189.4 L523.0 1971.9 L524.4 1759.5 L527.1 1944.7 L528.7 2026.3 L530.4 2105.1 L532.3 2029.0 L534.2 2102.4 L536.4 2026.3 L538.3 2031.7 L540.4 2071.1 L542.3 1944.7 L545.9 1781.3 L547.0 1971.9 L547.8 2135.0 L548.9 2184.0 L550.4 2194.1 L553.2 2169.9 L555.4 2198.8 L558.8 2167.6 L561.1 2196.3 L564.6 2162.3 L567.3 2193.2 L569.6 2182.6 L573.2 2186.7 L577.0 2169.8 L580.0 2185.8 L583.1 2173.0 L585.9 2194.7 L588.3 2179.6 L590.7 2200.3 L593.5 2182.5 L596.1 2202.8 L599.7 2175.5 L602.6 2201.3 L604.9 2189.4 L606.2 1971.9 L607.0 1849.3 L609.8 1999.1 L611.7 2126.9 L613.6 2012.7 L615.7 2124.1 L617.6 2004.5 L619.8 2080.6 L622.0 1999.1 L624.2 2045.3 L626.3 1999.1 L628.5 2045.3 L630.7 1917.5 L633.7 1871.2 L634.6 1686.1 L635.5 1893.0 L635.6 1944.7 L636.4 2107.8 L637.5 2189.4 L639.0 2186.9 L641.3 2202.5 L644.3 2177.8 L647.3 2188.5 L649.7 2179.0 L652.7 2200.7 L656.3 2175.0 L659.2 2201.7 L662.0 2172.8 L665.7 2198.0 L669.4 2179.4 L673.1 2191.3 L675.9 2183.9 L678.0 2198.6 L681.7 2181.9 L684.8 2209.0 L688.6 2180.3 L690.2 2189.4 L691.6 1971.9 L692.4 1780.8 L695.1 1917.5 L697.0 2061.6 L699.2 1939.3 L701.4 2039.9 L703.6 1944.7 L705.7 2039.9 L707.9 1971.9 L710.1 2041.2 L712.3 1977.3 L714.4 2039.9 L717.2 1944.7 L720.4 1822.1 L722.0 1971.9 L723.1 2080.6 L724.2 2148.6 L725.3 2189.4 L726.8 2161.9 L729.1 2203.3 L731.7 2180.9 L735.0 2211.4 L737.8 2185.2 L740.9 2185.7 L744.3 2190.4 L746.4 2196.5 L748.6 2175.5 L752.1 2186.1 L755.1 2191.8 L758.4 2186.0 L761.5 2186.5 L763.6 2194.8 L766.3 2172.3 L768.7 2209.2 L771.2 2183.0 L773.3 2207.8 L776.4 2189.4 L777.8 1971.9 L778.0 1927.5 L778.9 1750.0 L779.8 1862.3 L781.6 1890.3 L783.5 2034.4 L785.7 1874.0 L787.8 2034.4 L790.0 1971.9 L792.2 2072.5 L794.4 1977.3 L796.5 2073.8 L798.7 1971.9 L800.9 2073.8 L803.1 1890.3 L806.1 1773.1 L807.1 1944.7 L808.0 2080.6 L808.8 2162.2 L809.9 2189.4 L812.9 2162.2 L816.1 2189.4 L819.7 2184.0 L822.4 2107.8 L824.3 2048.3 L825.9 2162.2 L827.5 2061.6 L829.2 2162.2 L830.8 2065.4 L831.9 2135.0 L833.0 2189.4 L834.5 2206.1 L836.8 2190.5 L838.8 2197.4 L841.2 2174.2 L843.4 2195.7 L846.2 2165.6 L849.2 2198.3 L851.8 2165.6 L854.9 2203.8 L857.0 2187.3 L859.5 2186.6 L861.1 2189.4 L862.7 2026.3 L863.8 1918.6 L866.5 2026.3 L868.7 1974.6 L870.9 2053.5 L873.1 1977.3 L875.2 2056.2 L877.4 1999.1 L879.6 2053.5 L881.8 1985.5 L883.9 2048.0 L886.1 1944.7 L889.0 1883.0 L889.9 1636.1 L890.8 1883.0 L891.0 1944.7 L891.8 2107.8 L892.9 2175.8 L894.4 2206.2 L896.9 2174.6 L899.7 2206.6 L903.5 2172.5 L907.2 2205.7 L909.2 2176.4 L912.1 2207.8 L914.1 2189.5 L916.2 2211.3 L918.6 2171.6 L922.0 2198.9 L925.6 2176.3 L929.3 2208.8 L932.5 2184.5 L936.1 2199.5 L939.6 2182.3 L942.5 2195.4 L946.7 2189.4 L948.1 1971.9 L948.4 1883.4 L948.9 1529.3 L949.8 1883.4 L952.4 1971.9 L954.1 2116.0 L956.2 1999.1 L958.4 2116.0 L960.6 1999.1 L963.3 1967.5 L965.5 2091.5 L967.7 2012.7 L969.8 2088.8 L971.5 2026.3 L973.1 2088.8 L974.7 2107.8 L976.1 2175.8 L977.6 2194.2 L980.8 2191.3 L983.5 2209.7 L986.5 2170.5 L989.7 2186.9 L993.1 2173.5 L996.3 2210.5 L998.7 2183.8 L1002.0 2207.7 L1005.8 2173.7 L1008.6 2198.4 L1011.8 2191.2 L1014.2 2197.2 L1017.2 2190.4 L1020.4 2198.2 L1023.0 2173.2 L1024.8 2189.4 L1028.0 2148.6 L1030.7 2053.5 L1033.5 1944.7 L1036.2 1863.1 L1038.5 1837.2 L1039.4 1733.7 L1040.3 1859.0 L1042.7 1890.3 L1045.4 1944.7 L1047.6 2026.3 L1049.8 1917.5 L1052.0 2075.2 L1054.1 1971.9 L1056.3 2086.1 L1058.5 1890.3 L1060.0 1848.2 L1060.9 1679.6 L1061.8 1869.9 L1062.1 1917.5 L1062.6 2026.3 L1063.9 2121.4 L1065.8 2189.4 L1067.3 2164.2 L1071.1 2189.1 L1074.6 2162.4 L1077.0 2207.7 L1079.4 2188.7 L1083.1 2209.2 L1086.0 2164.3 L1088.5 2194.1 L1090.5 2185.5 L1093.3 2189.9 L1095.9 2187.2 L1099.4 2209.4 L1102.7 2164.0 L1105.4 2204.1 L1108.4 2176.9 L1110.9 2186.7 L1113.4 2163.2 L1115.9 2201.7 L1117.7 2189.4 L1119.1 1999.1 L1120.2 1857.4 L1122.6 1944.7 L1124.5 2067.0 L1126.4 1944.7 L1128.4 2075.2 L1130.5 1966.4 L1132.7 2075.2 L1134.6 1966.4 L1136.8 2088.8 L1139.0 1969.2 L1141.1 2088.8 L1143.3 1971.9 L1145.5 1889.2 L1146.3 1999.1 L1147.1 2107.8 L1148.2 2184.0 L1149.7 2194.4 L1152.8 2163.7 L1155.8 2187.4 L1158.6 2167.5 L1161.2 2210.8 L1163.4 2174.3 L1165.9 2197.3 L1168.4 2169.9 L1171.4 2204.0 L1173.7 2180.6 L1176.6 2207.5 L1180.4 2190.9 L1182.5 2190.6 L1185.0 2171.9 L1188.3 2203.7 L1192.1 2189.4 L1194.0 2135.0 L1196.7 2110.3 L1198.9 2135.0 L1200.8 1971.9 L1203.5 1928.1 L1206.2 1971.9 L1211.1 1910.4 L1213.3 1999.1 L1215.2 2072.5 L1217.1 2012.7 L1219.3 2073.8 L1221.4 1999.1 L1223.6 2073.8 L1225.8 1944.7 L1229.9 1756.8 L1230.7 1917.5 L1231.5 2053.5 L1232.6 2162.2 L1234.0 2189.4 L1235.5 2190.3 L1239.2 2209.3 L1242.3 2164.9 L1244.8 2206.9 L1247.6 2162.7 L1251.2 2187.5 L1254.8 2174.2 L1256.8 2204.1 L1260.3 2165.1 L1260.6 2196.3 L1262.8 2144.2 L1265.0 2201.9 L1267.8 2198.4 L1271.1 2170.1 L1273.9 2187.0 L1276.3 2163.5 L1278.9 2209.3 L1282.0 2191.7 L1283.7 2189.4 L1285.6 2107.8 L1288.3 2094.2 L1290.5 2085.8 L1293.2 2102.4 L1295.4 2053.5 L1298.1 2039.9 L1301.4 1973.0 L1304.1 2080.6 L1306.3 2107.8 L1308.5 2039.9 L1310.6 2031.4 L1312.8 2080.6 L1316.3 2012.4 L1317.2 2080.6 L1318.0 2162.2 L1319.1 2189.4 L1320.6 2204.2 L1323.6 2185.3 L1326.5 2192.9 L1330.1 2174.2 L1332.5 2192.9 L1335.1 2185.1 L1338.3 2203.5 L1341.5 2163.4 L1343.5 2205.1 L1346.8 2180.8 L1350.1 2201.9 L1353.8 2178.1 L1356.3 2193.9 L1358.5 2144.2 L1360.7 2188.6 L1363.1 2193.1 L1365.5 2180.2 L1368.7 2189.6 L1369.9 2189.4 L1372.1 1999.1 L1374.8 1903.9 L1377.5 2012.7 L1381.6 1809.8 L1384.3 2012.7 L1387.0 1906.6 L1389.7 2012.7 L1392.5 1906.6 L1394.4 2053.5 L1396.5 2099.7 L1398.7 2026.3 L1400.9 1999.1 L1403.3 1890.3 L1405.5 1775.3 L1406.3 1917.5 L1407.1 2012.7 L1408.2 2080.6 L1410.1 2162.2 L1412.0 2189.4 L1413.5 2191.7 L1416.2 2164.1 L1419.6 2192.2 L1422.2 2181.1 L1425.5 2211.1 L1428.2 2176.6 L1430.5 2211.7 L1433.1 2185.8 L1435.5 2204.8 L1439.0 2189.0 L1441.6 2193.7 L1444.3 2189.5 L1447.8 2191.9 L1449.9 2163.5 L1451.8 2189.4 L1455.9 2107.8 L1459.2 2026.0 L1461.4 2118.7 L1463.3 2026.3 L1465.4 2118.7 L1467.6 1971.9 L1469.8 2086.1 L1472.0 1890.3 L1473.6 1852.0 L1475.0 1917.5 L1476.3 1999.1 L1477.4 2080.6 L1478.5 1999.1 L1479.6 2080.6 L1480.9 2107.8 L1482.8 2148.6 L1484.7 2175.8 L1486.6 2189.4 L1488.1 2205.1 L1491.9 2170.8 L1495.2 2205.6 L1497.2 2167.5 L1497.8 2178.1 L1500.0 2137.6 L1502.2 2204.7 L1504.6 2202.4 L1508.3 2176.3 L1511.0 2202.1 L1513.4 2166.3 L1516.9 2196.6 L1519.4 2177.9 L1522.9 2210.2 L1526.2 2191.9 L1529.2 2205.4 L1532.8 2161.9 L1534.9 2209.9 L1538.2 2174.9 L1539.4 2189.4 L1541.6 2107.8 L1544.8 2047.7 L1547.5 2086.1 L1550.3 2012.7 L1552.4 2080.6 L1555.2 1971.9 L1559.2 1947.1 L1561.4 2091.5 L1563.6 1971.9 L1565.8 2091.5 L1567.9 1890.3 L1571.5 1777.2 L1572.0 1944.7 L1572.8 2053.5 L1573.9 2148.6 L1575.3 2189.4 L1576.8 2198.5 L1580.3 2186.6 L1582.8 2200.6 L1586.2 2180.8 L1588.6 2208.8 L1591.6 2177.8 L1595.4 2201.8 L1598.9 2169.9 L1601.1 2202.5 L1604.6 2190.2 L1606.8 2208.0 L1609.8 2163.3 L1613.4 2203.0 L1616.8 2188.2 L1619.9 2207.5 L1622.2 2180.7 L1625.3 2199.0 L1627.3 2177.7 L1628.6 2189.4 L1630.2 2026.3 L1632.1 1863.1 L1633.1 1837.5 L1634.0 1735.1 L1634.9 1837.5 L1636.7 1863.1 L1638.6 2012.7 L1640.8 1999.1 L1643.0 2061.6 L1645.2 2026.3 L1647.6 2105.1 L1649.8 2053.5 L1652.0 2105.1 L1654.1 1999.1 L1657.7 1934.9 L1658.2 1999.1 L1659.3 2053.5 L1660.4 2135.0 L1662.0 2189.4 L1663.5 2180.7 L1666.5 2189.6 L1669.5 2191.1 L1672.7 2203.7 L1675.3 2162.7 L1678.3 2204.8 L1681.9 2161.7 L1684.2 2197.5 L1686.2 2164.0 L1689.7 2203.8 L1692.5 2188.5 L1695.7 2188.1 L1698.4 2190.3 L1701.3 2188.9 L1703.8 2177.6 L1706.0 2139.8 L1708.2 2200.9 L1710.4 2163.0 L1713.3 2210.7 L1714.8 2189.4 L1716.1 1999.1 L1717.7 1862.9 L1720.5 1971.9 L1722.4 2023.5 L1724.3 1971.9 L1726.4 2026.3 L1728.6 1985.5 L1730.5 1974.3 L1732.7 2080.6 L1734.6 2107.8 L1736.8 2053.5 L1739.0 2094.2 L1741.1 1917.5 L1743.1 1877.8 L1744.0 1718.9 L1744.9 1877.8 L1745.2 1917.5 L1745.5 2026.3 L1746.8 2135.0 L1748.7 2189.4 L1750.2 2199.6 L1752.5 2166.7 L1755.3 2195.2 L1757.6 2180.4 L1760.5 2190.5 L1763.8 2188.5 L1767.2 2211.0 L1769.4 2171.2 L1772.5 2205.8 L1775.6 2175.4 L1778.4 2188.1 L1781.3 2180.0 L1784.7 2202.8 L1787.5 2189.3 L1789.7 2203.1 L1791.8 2187.3 L1795.2 2188.8 L1797.8 2186.5 L1798.9 2189.4 L1800.2 1999.1 L1801.3 1797.6 L1804.0 1971.9 L1805.7 2050.7 L1807.9 2039.9 L1810.3 2012.4 L1812.5 2080.6 L1814.4 2050.7 L1816.6 2105.1 L1818.7 2053.5 L1820.9 2094.2 L1823.1 1971.9 L1825.3 1808.8 L1826.8 1774.2 L1827.7 1635.8 L1828.6 1839.4 L1828.9 1890.3 L1829.2 2026.3 L1830.4 2135.0 L1832.6 2189.4 L1834.1 2195.8 L1837.9 2173.8 L1841.5 2208.5 L1845.2 2184.0 L1848.5 2208.7 L1851.0 2188.9 L1854.7 2207.7 L1857.6 2191.0 L1859.9 2193.4 L1863.5 2181.6 L1865.7 2201.4 L1868.4 2164.7 L1871.4 2185.6 L1874.5 2176.1 L1877.0 2192.3 L1879.7 2167.3 L1882.0 2186.8 L1884.0 2189.4 L1885.3 2026.3 L1886.4 1914.5 L1889.1 2026.3 L1891.3 2080.6 L1893.2 2116.0 L1895.4 2080.6 L1897.6 2107.8 L1899.7 2053.5 L1901.9 2045.0 L1904.1 2067.0 L1906.3 1999.1 L1908.5 1944.7 L1910.9 1890.3 L1913.6 1875.1 L1914.2 1971.9 L1914.7 2080.6 L1915.5 2175.8 L1917.0 2192.5 L1920.2 2191.9 L1922.5 2199.7 L1925.4 2190.7 L1928.6 2189.8 L1930.8 2177.0 L1933.8 2200.2 L1936.9 2186.0 L1939.4 2188.0 L1943.0 2166.8 L1945.4 2211.5 L1948.4 2177.2 L1951.2 2193.4 L1953.7 2188.7 L1954.3 2193.5 L1956.5 2148.5 L1958.7 2204.0 L1961.9 2211.5 L1965.6 2182.2 L1968.5 2189.4 L1969.9 1999.1 L1970.7 1909.1 L1974.0 2080.6 L1976.2 1944.7 L1978.3 1881.9 L1980.8 1971.9 L1982.9 1999.1 L1985.7 1990.6 L1987.8 2053.5 L1990.0 2094.2 L1992.2 2026.3 L1994.4 1971.9 L1996.5 1944.7 L1998.7 1890.3 L2001.2 1819.4 L2002.0 1917.5 L2003.1 1999.1 L2004.2 2080.6 L2005.5 2148.6 L2006.9 2189.4 L2008.4 2199.2 L2010.7 2178.2 L2012.8 2194.3 L2016.1 2185.4 L2019.4 2202.6 L2022.2 2190.6 L2024.3 2205.2 L2027.5 2165.3 L2030.0 2200.9 L2033.4 2173.0 L2036.6 2192.8 L2040.2 2185.2 L2042.6 2197.2 L2045.9 2177.8 L2048.5 2207.1 L2050.7 2189.4 L2053.5 2053.5 L2055.4 1971.6 L2058.1 1999.1 L2060.8 1890.3 L2064.3 1845.2 L2067.1 1944.7 L2069.0 2026.3 L2071.1 2053.5 L2073.6 2109.2 L2075.8 2026.3 L2077.9 2020.8 L2080.1 1971.9 L2082.0 1890.3 L2083.9 1807.9 L2084.5 1890.3 L2085.8 1971.9 L2087.2 2053.5 L2088.3 2107.8 L2089.6 2129.3 L2091.3 2175.8 L2092.9 2194.8 L2094.4 2198.7 L2097.2 2165.5 L2100.8 2203.2 L2103.8 2178.2 L2106.9 2210.2 L2109.2 2186.1 L2111.8 2191.9 L2115.1 2170.4 L2118.4 2210.5 L2121.0 2166.0 L2124.6 2210.5 L2128.3 2190.8 L2130.5 2211.1 L2133.9 2170.4 L2137.7 2189.4 L2139.1 2107.8 L2140.5 1944.7 L2142.4 1781.6 L2143.9 1762.0 L2144.8 1684.0 L2145.7 1805.5 L2147.8 1835.9 L2149.7 1944.7 L2151.9 2048.0 L2154.1 1999.1 L2156.8 2058.9 L2160.0 2107.8 L2162.8 2121.4" stroke="#ff7f0e"/>
</g>
<rect x="243.0" y="27.0" width="1916.5" height="1021.4000000000001" fill="none" stroke="#000" stroke-width="5.6" stroke-linejoin="miter"/>
<rect x="243.0" y="1252.8" width="1916.5" height="1021.2" fill="none" stroke="#000" stroke-width="5.6" stroke-linejoin="miter"/>
<line x1="223.0" x2="243.0" y1="1010.6" y2="1010.6" stroke="#000" stroke-width="5.6"/>
<text x="204" y="1033.6" font-size="69.4" text-anchor="end">0</text>
<line x1="223.0" x2="243.0" y1="763.6" y2="763.6" stroke="#000" stroke-width="5.6"/>
<text x="204" y="786.6" font-size="69.4" text-anchor="end">10</text>
<line x1="223.0" x2="243.0" y1="516.6" y2="516.6" stroke="#000" stroke-width="5.6"/>
<text x="204" y="539.6" font-size="69.4" text-anchor="end">20</text>
<line x1="223.0" x2="243.0" y1="269.5" y2="269.5" stroke="#000" stroke-width="5.6"/>
<text x="204" y="292.5" font-size="69.4" text-anchor="end">30</text>
<line x1="223.0" x2="243.0" y1="2231.4" y2="2231.4" stroke="#000" stroke-width="5.6"/>
<text x="204" y="2254.4" font-size="69.4" text-anchor="end">0</text>
<line x1="223.0" x2="243.0" y1="2013.3" y2="2013.3" stroke="#000" stroke-width="5.6"/>
<text x="204" y="2036.3" font-size="69.4" text-anchor="end">10</text>
<line x1="223.0" x2="243.0" y1="1795.3" y2="1795.3" stroke="#000" stroke-width="5.6"/>
<text x="204" y="1818.3" font-size="69.4" text-anchor="end">20</text>
<line x1="223.0" x2="243.0" y1="1577.2" y2="1577.2" stroke="#000" stroke-width="5.6"/>
<text x="204" y="1600.2" font-size="69.4" text-anchor="end">30</text>
<line x1="223.0" x2="243.0" y1="1359.1" y2="1359.1" stroke="#000" stroke-width="5.6"/>
<text x="204" y="1382.1" font-size="69.4" text-anchor="end">40</text>
<line x1="243.0" x2="243.0" y1="1048.4" y2="1068.4" stroke="#000" stroke-width="5.6"/>
<text x="243.0" y="1136" font-size="69.4" text-anchor="middle" textLength="332.4" lengthAdjust="spacingAndGlyphs">03-02 03:00</text>
<line x1="722.1" x2="722.1" y1="1048.4" y2="1068.4" stroke="#000" stroke-width="5.6"/>
<text x="722.1" y="1136" font-size="69.4" text-anchor="middle" textLength="332.4" lengthAdjust="spacingAndGlyphs">03-02 03:30</text>
<line x1="1201.25" x2="1201.25" y1="1048.4" y2="1068.4" stroke="#000" stroke-width="5.6"/>
<text x="1201.25" y="1136" font-size="69.4" text-anchor="middle" textLength="332.4" lengthAdjust="spacingAndGlyphs">03-02 04:00</text>
<line x1="1680.4" x2="1680.4" y1="1048.4" y2="1068.4" stroke="#000" stroke-width="5.6"/>
<text x="1680.4" y="1136" font-size="69.4" text-anchor="middle" textLength="332.4" lengthAdjust="spacingAndGlyphs">03-02 04:30</text>
<line x1="2159.5" x2="2159.5" y1="1048.4" y2="1068.4" stroke="#000" stroke-width="5.6"/>
<text x="2159.5" y="1136" font-size="69.4" text-anchor="middle" textLength="332.4" lengthAdjust="spacingAndGlyphs">03-02 05:00</text>
<line x1="476.0" x2="476.0" y1="2274.0" y2="2294.0" stroke="#000" stroke-width="5.6"/>
<text x="474.2" y="2362" font-size="69.4" text-anchor="middle" textLength="379.2" lengthAdjust="spacingAndGlyphs">03-12 02 AM</text>
<line x1="906.3" x2="906.3" y1="2274.0" y2="2294.0" stroke="#000" stroke-width="5.6"/>
<text x="904.5" y="2362" font-size="69.4" text-anchor="middle" textLength="379.2" lengthAdjust="spacingAndGlyphs">03-12 10 AM</text>
<line x1="1336.6" x2="1336.6" y1="2274.0" y2="2294.0" stroke="#000" stroke-width="5.6"/>
<text x="1334.8" y="2362" font-size="69.4" text-anchor="middle" textLength="379.2" lengthAdjust="spacingAndGlyphs">03-12 06 PM</text>
<line x1="1766.9" x2="1766.9" y1="2274.0" y2="2294.0" stroke="#000" stroke-width="5.6"/>
<text x="1765.1000000000001" y="2362" font-size="69.4" text-anchor="middle" textLength="379.2" lengthAdjust="spacingAndGlyphs">03-13 02 AM</text>
<text x="1202" y="1220" font-size="69.4" text-anchor="middle" textLength="154.5" lengthAdjust="spacingAndGlyphs">Time</text>
<text x="1202" y="2445.8" font-size="69.4" text-anchor="middle" textLength="154.5" lengthAdjust="spacingAndGlyphs">Time</text>
<text transform="translate(96.2,879.5) rotate(-90)" font-size="69.4" text-anchor="start" textLength="344" lengthAdjust="spacingAndGlyphs">Uncertainty</text>
<text transform="translate(96.2,509) rotate(-90)" font-size="69.4" text-anchor="start" textLength="19" lengthAdjust="spacingAndGlyphs">[</text>
<text transform="translate(96.2,494.5) rotate(-90)" font-size="69.4" text-anchor="start">°</text>
<text transform="translate(96.2,469.5) rotate(-90)" font-size="69.4" text-anchor="start" textLength="19" lengthAdjust="spacingAndGlyphs">]</text>
<text transform="translate(96.2,421) rotate(-90)" font-size="69.4" text-anchor="start" textLength="80" lengthAdjust="spacingAndGlyphs">(at</text>
<text transform="translate(96.2,318.5) rotate(-90)" font-size="69.4" text-anchor="start">1</text>
<text transform="translate(96.2,261) rotate(-90)" font-size="69.4" text-anchor="start">σ</text>
<text transform="translate(96.2,220) rotate(-90)" font-size="69.4" text-anchor="start">)</text>
<text transform="translate(96.2,2105.3) rotate(-90)" font-size="69.4" text-anchor="start" textLength="344" lengthAdjust="spacingAndGlyphs">Uncertainty</text>
<text transform="translate(96.2,1734.8) rotate(-90)" font-size="69.4" text-anchor="start" textLength="19" lengthAdjust="spacingAndGlyphs">[</text>
<text transform="translate(96.2,1720.3) rotate(-90)" font-size="69.4" text-anchor="start">°</text>
<text transform="translate(96.2,1695.3) rotate(-90)" font-size="69.4" text-anchor="start" textLength="19" lengthAdjust="spacingAndGlyphs">]</text>
<text transform="translate(96.2,1646.8) rotate(-90)" font-size="69.4" text-anchor="start" textLength="80" lengthAdjust="spacingAndGlyphs">(at</text>
<text transform="translate(96.2,1544.3) rotate(-90)" font-size="69.4" text-anchor="start">1</text>
<text transform="translate(96.2,1486.8) rotate(-90)" font-size="69.4" text-anchor="start">σ</text>
<text transform="translate(96.2,1445.8) rotate(-90)" font-size="69.4" text-anchor="start">)</text>
<rect x="1654.9" y="61.6" width="470.0" height="220.8" rx="11" ry="11" fill="#fff" fill-opacity="0.8" stroke="#ccc" stroke-opacity="0.8" stroke-width="6.6"/>
<line x1="1676.8" x2="1823.9" y1="117" y2="117" stroke="#1f77b4" stroke-width="10.4"/>
<line x1="1676.8" x2="1823.9" y1="218" y2="218" stroke="#ff7f0e" stroke-width="10.4"/>
<text x="1874.7" y="141" font-size="69.4" text-anchor="start" textLength="223.5" lengthAdjust="spacingAndGlyphs">TRIAD</text>
<text x="1873.2" y="242.2" font-size="69.4" text-anchor="start" textLength="205.5" lengthAdjust="spacingAndGlyphs">MEKF</text>
<rect x="1654.9" y="1287.3999999999999" width="470.0" height="220.8" rx="11" ry="11" fill="#fff" fill-opacity="0.8" stroke="#ccc" stroke-opacity="0.8" stroke-width="6.6"/>
<line x1="1676.8" x2="1823.9" y1="1342.8" y2="1342.8" stroke="#1f77b4" stroke-width="10.4"/>
<line x1="1676.8" x2="1823.9" y1="1443.8" y2="1443.8" stroke="#ff7f0e" stroke-width="10.4"/>
<text x="1874.7" y="1366.8" font-size="69.4" text-anchor="start" textLength="223.5" lengthAdjust="spacingAndGlyphs">TRIAD</text>
<text x="1873.2" y="1468.0" font-size="69.4" text-anchor="start" textLength="205.5" lengthAdjust="spacingAndGlyphs">MEKF</text>
</svg></body></html>
